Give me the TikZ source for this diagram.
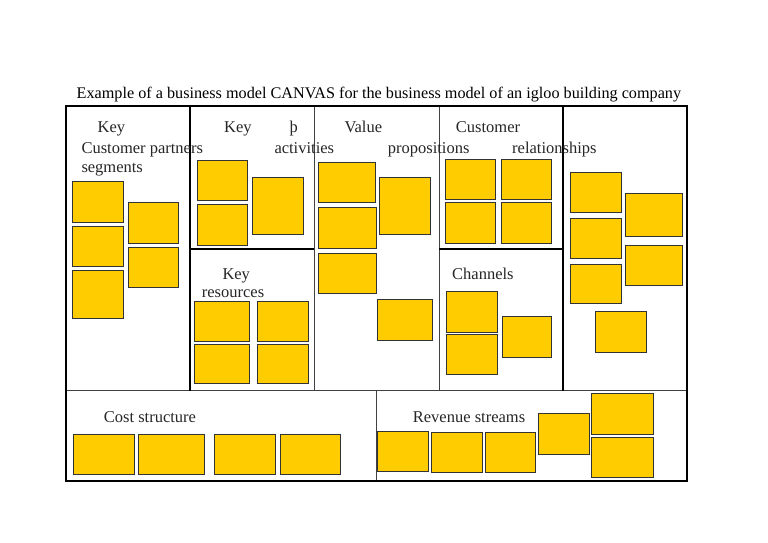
\documentclass[tikz,border=0pt]{standalone}
\usepackage{fontspec}
\setmainfont{Liberation Serif}
\begin{document}
\begin{tikzpicture}[x=1pt,y=-1pt,
  ybox/.style={fill=yellowc,draw=boxline,line width=0.9pt},
  thick frame/.style={line width=2pt,draw=black},
  thin frame/.style={line width=1pt,draw=black!75},
  lbl/.style={anchor=base west,inner sep=0pt,text=black!85,font=\fontsize{16.5}{19}\selectfont},
  ttl/.style={anchor=base west,inner sep=0pt,text=black,font=\fontsize{16.2}{19}\selectfont}]
\definecolor{yellowc}{HTML}{FFCC00}
\definecolor{boxline}{HTML}{333333}
\useasboundingbox[fill=white] (0,0) rectangle (768,543);
% title
\node[ttl] (title) at (76.5,98.3) {Example of a business model CANVAS for the business model of an igloo building company};
% customer ... column 1
\path[ybox] (72,181) rectangle (123,222);
\path[ybox] (72,226) rectangle (123,266);
\path[ybox] (72,270) rectangle (123,318);
\path[ybox] (128,202) rectangle (178,243);
\path[ybox] (128,247) rectangle (178,287);
% key activities
\path[ybox] (197,160) rectangle (247,200);
\path[ybox] (197,204.5) rectangle (247,245);
\path[ybox] (252,177) rectangle (303,234);
% key resources
\path[ybox] (194,301) rectangle (249,341.5);
\path[ybox] (194,344) rectangle (249,383.5);
\path[ybox] (257,301) rectangle (308,341.5);
\path[ybox] (257,344) rectangle (308,383.5);
% value propositions
\path[ybox] (318,162) rectangle (375,202.5);
\path[ybox] (318,207) rectangle (376,248);
\path[ybox] (318.5,253) rectangle (376,293);
\path[ybox] (379,177) rectangle (430,234);
\path[ybox] (377,299) rectangle (432,340);
% customer relationships
\path[ybox] (445,159) rectangle (495,199.5);
\path[ybox] (445,202.2) rectangle (495,243);
\path[ybox] (501,159) rectangle (551,199.5);
\path[ybox] (501,202.2) rectangle (551,243);
% channels
\path[ybox] (446,291) rectangle (497,332);
\path[ybox] (446,334.3) rectangle (497,374.7);
\path[ybox] (502,316.7) rectangle (551,357.3);
% customer segments
\path[ybox] (570,172) rectangle (621,212.7);
\path[ybox] (570,218.3) rectangle (621,258);
\path[ybox] (570,264) rectangle (621,303.3);
\path[ybox] (625,193.7) rectangle (682,236.7);
\path[ybox] (625,245) rectangle (682,285.3);
\path[ybox] (595,311.3) rectangle (646,352);
% cost structure
\path[ybox] (73,434) rectangle (134,474.7);
\path[ybox] (138.5,434) rectangle (204,474.7);
\path[ybox] (214.5,434) rectangle (275.5,474.7);
\path[ybox] (280,434) rectangle (340,474.7);
% revenue streams
\path[ybox] (377,431) rectangle (428,471.3);
\path[ybox] (431,432) rectangle (482,472.7);
\path[ybox] (485,432) rectangle (535,472.7);
\path[ybox] (538,413.7) rectangle (589,454.3);
\path[ybox] (591,393.3) rectangle (653,434);
\path[ybox] (591,437) rectangle (653,477.7);
% grid lines
\draw[thin frame] (314,106) -- (314,390.5);
\draw[thin frame] (439,106) -- (439,390.5);
\draw[thin frame] (66,390.5) -- (687,390.5);
\draw[thin frame] (376,390.5) -- (376,481);
\draw[thick frame] (190,106) -- (190,390.5);
\draw[thick frame] (563,106) -- (563,390.5);
\draw[thick frame] (190,248.5) -- (314,248.5);
\draw[thick frame] (439,248.5) -- (563,248.5);
\draw[thick frame] (66,106) rectangle (687,481);
% labels
\node[lbl] (kp1) at (97.5,132.7) {Key};
\node[lbl] (kp2) at (81.3,153.3) {Customer partners};
\node[lbl] (kp3) at (81.3,172.8) {segments};
\node[lbl] (ka1) at (224,132.7) {Key};
\node[lbl] (ka0) at (289.3,132.7) {þ};
\node[lbl] (ka2) at (274.3,153.3) {activities};
\node[lbl] (vp1) at (344.3,132.7) {Value};
\node[lbl] (vp2) at (387.7,153.3) {propositions};
\node[lbl] (cr1) at (455.7,132.7) {Customer};
\node[lbl] (cr2) at (512,153.3) {relationships};
\node[lbl] (kr1) at (222.3,279.3) {Key};
\node[lbl] (kr2) at (201.7,297.3) {resources};
\node[lbl] (ch) at (452,279.3) {Channels};
\node[lbl] (cs) at (103.7,422) {Cost structure};
\node[lbl] (rs) at (412.7,422) {Revenue streams};
\end{tikzpicture}
\end{document}
